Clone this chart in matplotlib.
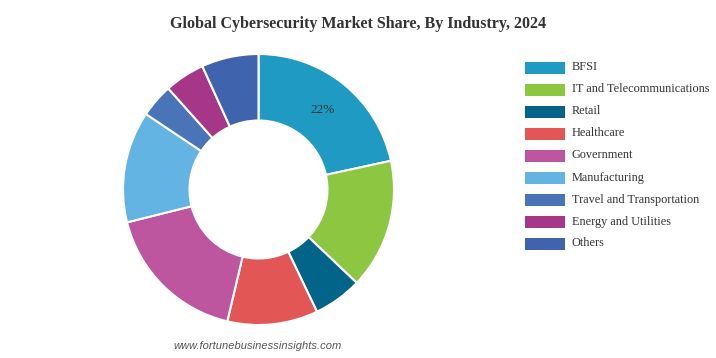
import matplotlib
matplotlib.use("Agg")
import matplotlib.pyplot as plt
import matplotlib.patches as mpatches
import numpy as np

industries = ["BFSI", "IT and Telecommunications", "Retail", "Healthcare", "Government",
              "Manufacturing", "Travel and Transportation", "Energy and Utilities", "Others"]
shares = [21.6, 15.5, 5.8, 10.8, 17.4, 13.3, 4.0, 4.8, 6.8]
colors = ["#1e9ac3", "#8dc641", "#036489", "#e35656", "#bd569e",
          "#63b3e3", "#4a74b8", "#a63688", "#3f63ad"]
bfsi_label = "22%"

W, H = 716, 358
fig = plt.figure(figsize=(W / 100, H / 100), dpi=100)
ax = fig.add_axes([0, 0, 1, 1])

cx, cy, r = 258.5, H - 189.5, 135.5
wedges, _ = ax.pie(shares, colors=colors, startangle=90, counterclock=False,
                   center=(cx, cy), radius=r, frame=True,
                   wedgeprops=dict(width=r - 69, edgecolor="white", linewidth=1.5))
ax.set_xlim(0, W)
ax.set_ylim(0, H)
ax.set_aspect("equal")
ax.axis("off")

# label on the BFSI slice
mid = np.deg2rad(90 - shares[0] / sum(shares) * 360 / 2)
lr = (r + 69) / 2
ax.text(cx + lr * np.cos(mid), cy + lr * np.sin(mid), bfsi_label, ha="center", va="center",
        fontsize=9.5, family="Liberation Serif", color="#333333")

# legend
for i, (name, col) in enumerate(zip(industries, colors)):
    yc = H - (67.5 + 22 * i)
    ax.add_patch(mpatches.Rectangle((525, yc - 6), 40, 12, facecolor=col, edgecolor="none"))
    ax.text(572, yc, name, ha="left", va="center", fontsize=8.8,
            family="Liberation Serif", color="#333333")

ax.text(358, H - 24, "Global Cybersecurity Market Share, By Industry, 2024", ha="center", va="center",
        fontsize=11.5, fontweight="bold", family="Liberation Serif", color="#333333")
ax.text(258, H - 346, "www.fortunebusinessinsights.com", ha="center", va="center",
        fontsize=8, style="italic", family="Liberation Sans", color="#555555")

fig.savefig("out.png", dpi=100)
